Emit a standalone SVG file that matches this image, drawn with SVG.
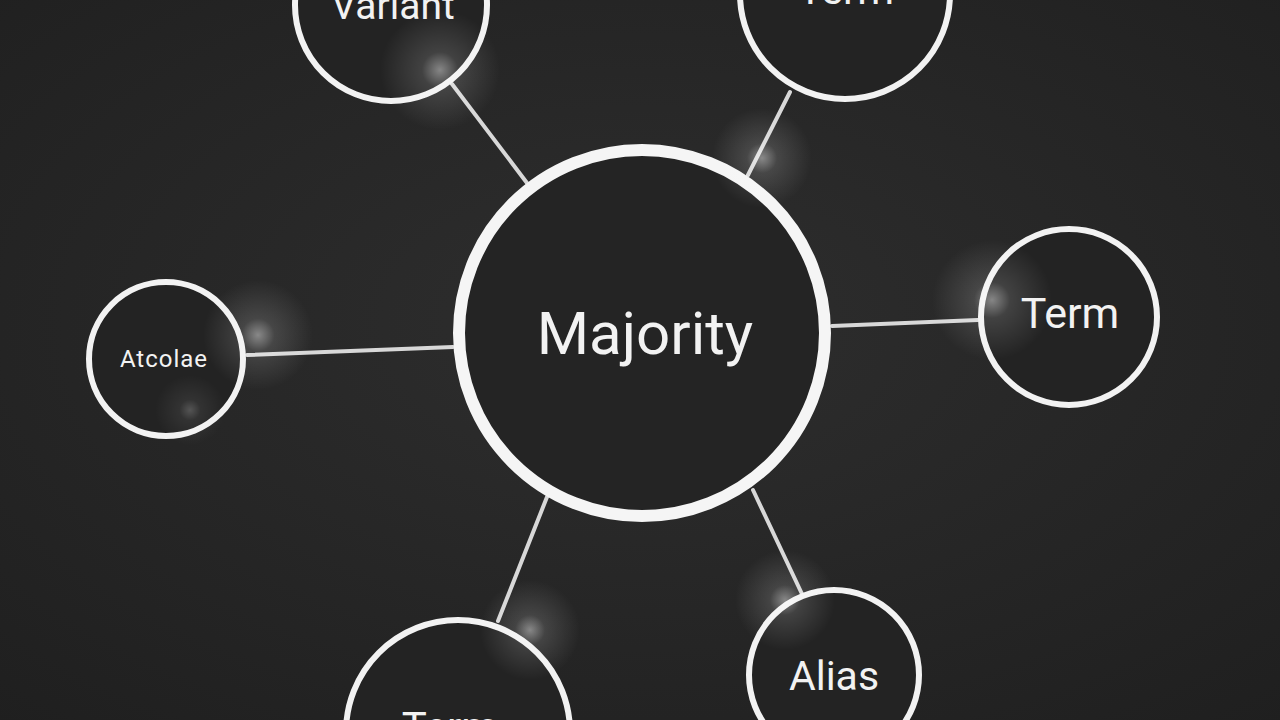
<svg xmlns="http://www.w3.org/2000/svg" width="1280" height="720" viewBox="0 0 1280 720">
<defs>
<radialGradient id="bg" cx="50%" cy="45%" r="75%">
<stop offset="0" stop-color="#2e2e2e"/>
<stop offset="1" stop-color="#1f1f1f"/>
</radialGradient>
<radialGradient id="glow" cx="50%" cy="50%" r="50%">
<stop offset="0" stop-color="#ffffff" stop-opacity="0.45"/>
<stop offset="0.3" stop-color="#ffffff" stop-opacity="0.14"/>
<stop offset="1" stop-color="#ffffff" stop-opacity="0"/>
</radialGradient>
<style>
.ring{fill:#232323;stroke:#f2f2f2;stroke-width:6}
.big{fill:#242424;stroke:#f5f5f5;stroke-width:12}
.lbl{font-family:Roboto,"Liberation Sans",sans-serif;fill:#f2f2f2;text-anchor:middle}
.conn line{stroke:#d8d8d8;stroke-width:4;stroke-linecap:round}
</style>
</defs>
<rect width="1280" height="720" fill="url(#bg)"/>
<g id="connectors" class="conn">
<line x1="452" y1="84" x2="527" y2="183"/>
<line x1="790" y1="92" x2="748" y2="175"/>
<line x1="247" y1="355" x2="453" y2="347"/>
<line x1="832" y1="326" x2="978" y2="320"/>
<line x1="547" y1="497" x2="498" y2="621"/>
<line x1="753" y1="490" x2="802" y2="594"/>
</g>
<g id="node-majority">
<circle class="big" cx="642" cy="333" r="183"/>
<text class="lbl" x="645" y="354" font-size="60">Majority</text>
</g>
<g id="node-variant">
<circle class="ring" cx="391" cy="5" r="96"/>
<text class="lbl" x="393" y="19" font-size="39">Variant</text>
</g>
<g id="node-term-top">
<circle class="ring" cx="845" cy="-6" r="105"/>
<text class="lbl" x="846" y="4" font-size="42">Term</text>
</g>
<g id="node-atcolae">
<circle class="ring" cx="166" cy="359" r="77"/>
<text class="lbl" x="164" y="367" font-size="24" letter-spacing="1">Atcolae</text>
</g>
<g id="node-term-right">
<circle class="ring" cx="1069" cy="317" r="88"/>
<text class="lbl" x="1070" y="328" font-size="43">Term</text>
</g>
<g id="node-term-bottom">
<circle class="ring" cx="458" cy="732" r="112"/>
<text class="lbl" x="450" y="742" font-size="42">Term</text>
</g>
<g id="node-alias">
<circle class="ring" cx="834" cy="675" r="85"/>
<text class="lbl" x="834" y="690" font-size="41">Alias</text>
</g>
<g id="glows">
<circle cx="440" cy="70" r="60" fill="url(#glow)"/>
<circle cx="762" cy="158" r="50" fill="url(#glow)"/>
<circle cx="258" cy="335" r="55" fill="url(#glow)"/>
<circle cx="992" cy="300" r="60" fill="url(#glow)"/>
<circle cx="530" cy="630" r="50" fill="url(#glow)"/>
<circle cx="785" cy="600" r="50" fill="url(#glow)"/>
<circle cx="190" cy="410" r="35" fill="url(#glow)" opacity="0.5"/>
</g>
</svg>
